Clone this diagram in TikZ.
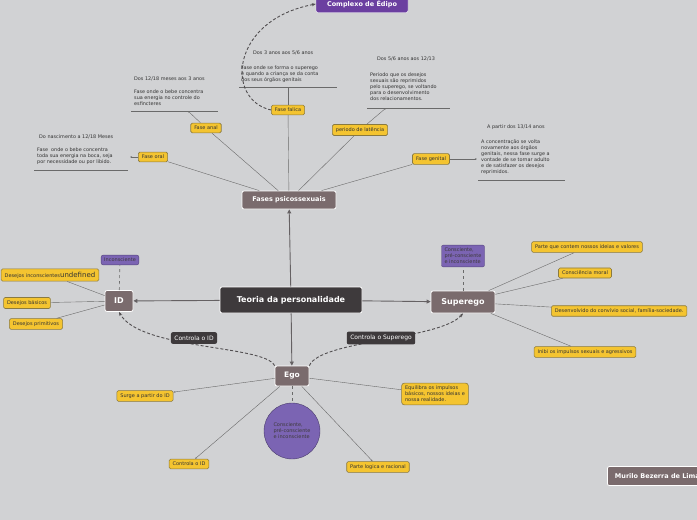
\documentclass[tikz,border=0pt]{standalone}
\usepackage{fontspec}
\setmainfont{DejaVu Sans}
\usetikzlibrary{arrows.meta}
\definecolor{bg}{HTML}{D1D2D4}
\definecolor{ylw}{HTML}{F4C430}
\definecolor{ybd}{HTML}{8A7A40}
\definecolor{mauve}{HTML}{7A6B6D}
\definecolor{dark}{HTML}{3E3A3C}
\definecolor{purp}{HTML}{7B64B3}
\definecolor{deeppurp}{HTML}{6B3FA0}
\definecolor{txt}{HTML}{333333}
\definecolor{ln}{HTML}{6A6A6A}
\tikzset{
 x=1pt,y=-1pt,
 ybox/.style={draw=ybd,fill=ylw,rounded corners=1.5pt,font=\fontsize{5}{6}\selectfont,text=txt,inner xsep=3.5pt,inner ysep=3pt,line width=0.6pt},
 mbox/.style={draw=white,fill=mauve,rounded corners=2pt,font=\bfseries,text=white,line width=0.8pt},
 dbox/.style={fill=dark,rounded corners=2pt,text=white,font=\fontsize{6}{7}\selectfont,inner sep=3.5pt},
 pbox/.style={draw=purp!70!black,fill=purp,rounded corners=2pt,font=\fontsize{5}{6}\selectfont,text=dark,align=left,inner sep=3pt},
 note/.style={font=\fontsize{4.9}{6}\selectfont,text=txt,align=left,anchor=north west,inner sep=0pt},
 conn/.style={draw=ln,line width=0.4pt},
 main/.style={draw=dark!80,line width=0.9pt,-{Triangle[length=4pt,width=4pt]}},
 dsh/.style={draw=dark!90,dashed,line width=0.9pt,dash pattern=on 3pt off 2pt,-{Stealth[length=4pt]}},
 pd/.style={draw=ln,dashed,line width=0.6pt}
}
\begin{document}
\begin{tikzpicture}
\fill[bg] (0,0) rectangle (697,520);
\useasboundingbox (0,0) rectangle (697,520);
\begin{scope}
\clip (0,0) rectangle (697,520);
% central
\node[draw=white,fill=dark,rounded corners=2pt,font=\bfseries\fontsize{8}{9}\selectfont,text=white,minimum width=142pt,minimum height=26pt,line width=0.8pt] (teo) at (291,300) {Teoria da personalidade};
\node[mbox,font=\bfseries\fontsize{6.5}{7}\selectfont,minimum width=94pt,minimum height=18pt] (fas) at (289,200) {Fases psicossexuais};
\node[mbox,font=\bfseries\fontsize{8}{9}\selectfont,minimum width=28pt,minimum height=21pt] (id) at (119,301) {ID};
\node[mbox,font=\bfseries\fontsize{8}{9}\selectfont,minimum width=64pt,minimum height=22pt] (sup) at (463,302) {Superego};
\node[mbox,font=\bfseries\fontsize{7.5}{9}\selectfont,minimum width=34pt,minimum height=20pt] (ego) at (292,376) {Ego};
\node[draw=white,fill=deeppurp,rounded corners=2pt,font=\bfseries\fontsize{6.5}{7}\selectfont,text=white,minimum width=92pt,minimum height=17pt] (edi) at (362,4) {Complexo de Édipo};
\node[mbox,font=\bfseries\fontsize{6.5}{7}\selectfont,minimum width=100pt,minimum height=19pt,anchor=west] (mur) at (607,476) {Murilo Bezerra de Lima};

\draw[main] (teo) -- (fas);
\draw[main] (teo) -- (id);
\draw[main] (teo) -- (sup);
\draw[main] (teo) -- (ego);

% phases
\node[ybox] (oral) at (153,157) {Fase oral};
\node[ybox] (anal) at (206,128) {Fase anal};
\node[ybox] (fal) at (288,110) {Fase falica};
\node[ybox] (lat) at (360,130) {periodo de latência};
\node[ybox] (gen) at (431,159) {Fase genital};
\foreach \n in {oral,anal,fal,lat,gen} \draw[conn] (fas) -- (\n);

\node[note] at (39,135) {Do nascimento a 12/18 Meses};
\node[note] at (37,148) {Fase \ onde o bebe concentra\\toda sua energia na boca, seja\\por necessidade ou por libido.};
\coordinate (lo1) at (34,170); \coordinate (lo2) at (128,170);
\draw[conn] (lo1) -- (lo2);
\draw[conn,-{Stealth[length=2pt]}] (oral) -- (130,157);

\node[note] at (134,77) {Dos 12/18 meses aos 3 anos};
\node[note] at (134,90) {Fase onde o bebe concentra\\sua energia no controle do\\esfincteres};
\coordinate (la1) at (131,111); \coordinate (la2) at (218,111);
\draw[conn] (la1) -- (la2);
\draw[conn,-{Stealth[length=2pt]}] (anal) -- (188,111);

\node[note] at (253,51) {Dos 3 anos aos 5/6 anos};
\node[note] at (241,66) {Fase onde se forma o superego\\e quando a criança se da conta\\dos seus órgãos genitais};
\coordinate (lf1) at (239,87); \coordinate (lf2) at (337,87);
\draw[conn] (lf1) -- (lf2);
\draw[conn] (fal) -- (288,87);

\node[note] at (377,57) {Dos 5/6 anos aos 12/13};
\node[note] at (370,73) {Periodo que os desejos\\sexuais são reprimidos\\pelo superego, se voltando\\para o desenvolvimento\\dos relacionamentos.};
\coordinate (ll1) at (367,108); \coordinate (ll2) at (450,108);
\draw[conn] (ll1) -- (ll2);
\draw[conn,-{Stealth[length=2pt]}] (lat) -- (386,108);

\node[note] at (487,125) {A partir dos 13/14 anos};
\node[note] at (481,139) {A concentração se volta\\novamente aos órgãos\\genitais, nessa fase surge a\\vontade de se tornar adulto\\e de satisfazer os desejos\\reprimidos.};
\coordinate (lg1) at (478,180); \coordinate (lg2) at (565,180);
\draw[conn] (lg1) -- (lg2);
\draw[conn,-{Stealth[length=2pt]}] (gen) -- (477,159);

\draw[dsh] (fal.west) .. controls (225,100) and (230,20) .. (edi.west);

% ID
\node[pbox] (inc) at (120,260) {Inconsciente};
\draw[pd] (id) -- (inc);
\node[ybox] (d1) at (50,275) {Desejos inconscientes\fontsize{7}{8}\selectfont undefined};
\node[ybox] (d2) at (27,303) {Desejos básicos};
\node[ybox] (d3) at (36,324) {Desejos primitivos};
\foreach \n in {d1,d2,d3} \draw[conn] (id) -- (\n);

% Superego
\node[pbox] (sc) at (463,256) {Consciente,\\pré-consciente\\e inconsciente};
\draw[pd] (sup) -- (sc);
\node[ybox] (s1) at (587,247) {Parte que contem nossos ideias e valores};
\node[ybox] (s2) at (585,273) {Consciência moral};
\node[ybox,anchor=west] (s3) at (551,311) {Desenvolvido do convívio social, família-sociedade.};
\node[ybox] (s4) at (585,352) {Inibi os impulsos sexuais e agressivos};
\foreach \n in {s1,s2,s3,s4} \draw[conn] (sup) -- (\n);

% Ego
\node[ybox] (e1) at (145,396) {Surge a partir do ID};
\node[ybox] (e2) at (189,464) {Controla o ID};
\node[ybox] (e3) at (378,467) {Parte logica e racional};
\node[ybox,align=left,rounded corners=3pt] (e4) at (435,394) {Equilibra os impulsos\\básicos, nossos ideias e\\nossa realidade.};
\node[circle,draw=purp!60!black,fill=purp,minimum size=56pt,inner sep=0pt,font=\fontsize{5}{6}\selectfont,text=dark,align=left] (ec) at (292,431) {Consciente,\\pré-consciente\\e inconsciente};
\draw[pd] (ego) -- (ec);
\draw[conn,-{Stealth[length=2pt]}] (ego) -- (e1);
\draw[conn,-{Stealth[length=2pt]}] (ego) -- (e2);
\draw[conn,-{Stealth[length=2pt]}] (ego) -- (e3);
\draw[conn] (ego) -- (e4);

% dashed controls
\draw[dsh] (ego.north west) .. controls (265,345) and (140,350) .. (id.south);
\draw[dsh] (ego.north east) .. controls (320,340) and (440,340) .. (sup.south);
\node[dbox] (cid) at (194,338) {Controla o ID};
\node[dbox] (csu) at (381,338) {Controla o Superego};
\end{scope}
\end{tikzpicture}
\end{document}
